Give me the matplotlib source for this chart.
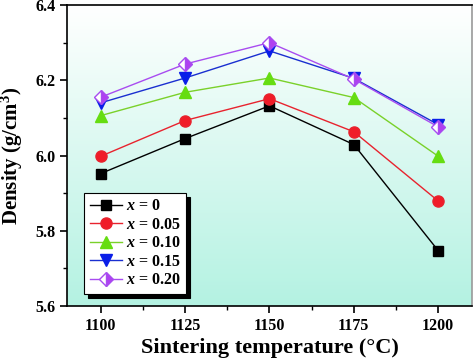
import numpy as np
import matplotlib
matplotlib.use("Agg")
import matplotlib.pyplot as plt
from matplotlib.colors import LinearSegmentedColormap

plt.rcParams['font.family'] = ['Liberation Serif', 'DejaVu Serif']
plt.rcParams['mathtext.fontset'] = 'custom'
plt.rcParams['mathtext.rm'] = 'Liberation Serif:bold'
plt.rcParams['mathtext.it'] = 'Liberation Serif:bold:italic'
plt.rcParams['mathtext.bf'] = 'Liberation Serif:bold'

temps = [1100, 1125, 1150, 1175, 1200]
d_x0 = [5.952, 6.045, 6.132, 6.029, 5.747]
d_x005 = [5.998, 6.093, 6.151, 6.063, 5.879]
d_x010 = [6.106, 6.168, 6.206, 6.154, 5.998]
d_x015 = [6.140, 6.206, 6.278, 6.205, 6.082]
d_x020 = [6.155, 6.243, 6.300, 6.203, 6.076]
labels = ["$x$ = 0", "$x$ = 0.05", "$x$ = 0.10", "$x$ = 0.15", "$x$ = 0.20"]

fig = plt.figure(figsize=(4.74, 3.61), dpi=100)
ax = fig.add_axes([67 / 474, 1 - 306 / 361, 405 / 474, 301 / 361])

# gradient background inside the axes: white at top, aqua at bottom
cmap = LinearSegmentedColormap.from_list("bg", ["#ffffff", "#b4f2e2"])
grad = np.linspace(0, 1, 256).reshape(-1, 1)
ax.imshow(grad, aspect="auto", cmap=cmap, origin="upper",
          extent=[0, 1, 0, 1], transform=ax.transAxes, zorder=0)

ms = 7.5
ax.plot(temps, d_x0, color="black", lw=1, marker="s", ms=ms, label=labels[0], zorder=3)
ax.plot(temps, d_x005, color="#e8232e", lw=1, marker="o", ms=ms + 0.5,
        mfc="#f01c28", mec="#e8232e", label=labels[1], zorder=3)
ax.plot(temps, d_x010, color="#7ad12a", lw=1, marker="^", ms=ms + 1,
        mfc="#66dd11", mec="#66dd11", label=labels[2], zorder=3)
ax.plot(temps, d_x015, color="#1a2fd0", lw=1, marker="v", ms=ms + 1,
        mfc="#0a1ee8", mec="#0a1ee8", label=labels[3], zorder=3)
ax.plot(temps, d_x020, color="#a84cf0", lw=1, marker="D", ms=ms,
        fillstyle="right", mfc="#b040f0", mfcalt="white", mec="#a84cf0",
        label=labels[4], zorder=4)

ax.set_xlim(1090, 1210)
ax.set_ylim(5.6, 6.4)
ax.set_xticks(temps)
ax.set_xticks([1112.5, 1137.5, 1162.5, 1187.5], minor=True)
ax.set_yticks([5.6, 5.8, 6.0, 6.2, 6.4])
ax.set_yticks([5.7, 5.9, 6.1, 6.3], minor=True)
ax.tick_params(which="both", direction="out", labelsize=11.5)
ax.tick_params(which="major", length=5, width=1.2)
ax.tick_params(which="minor", length=3, width=1.0)
for lab in ax.get_xticklabels() + ax.get_yticklabels():
    lab.set_fontweight("bold")
for sp in ax.spines.values():
    sp.set_linewidth(1.2)
ax.spines["right"].set_color("#999999")

ax.set_xlabel("Sintering temperature (°C)", fontsize=16, fontweight="bold", labelpad=3)
ax.set_ylabel("Density (g/cm$^3$)", fontsize=15, fontweight="bold", labelpad=7)

leg = ax.legend(loc="lower left", bbox_to_anchor=(0.042, 0.04), frameon=True,
                fancybox=False, shadow={"color": "black", "alpha": 1.0, "ox": 3, "oy": -3},
                edgecolor="black", framealpha=1,
                prop={"size": 11.5, "weight": "bold"},
                handlelength=2.0, handletextpad=0.25, labelspacing=0.16,
                borderpad=0.35, borderaxespad=0)
leg.get_frame().set_linewidth(0.8)

fig.savefig("out.png", dpi=100)
